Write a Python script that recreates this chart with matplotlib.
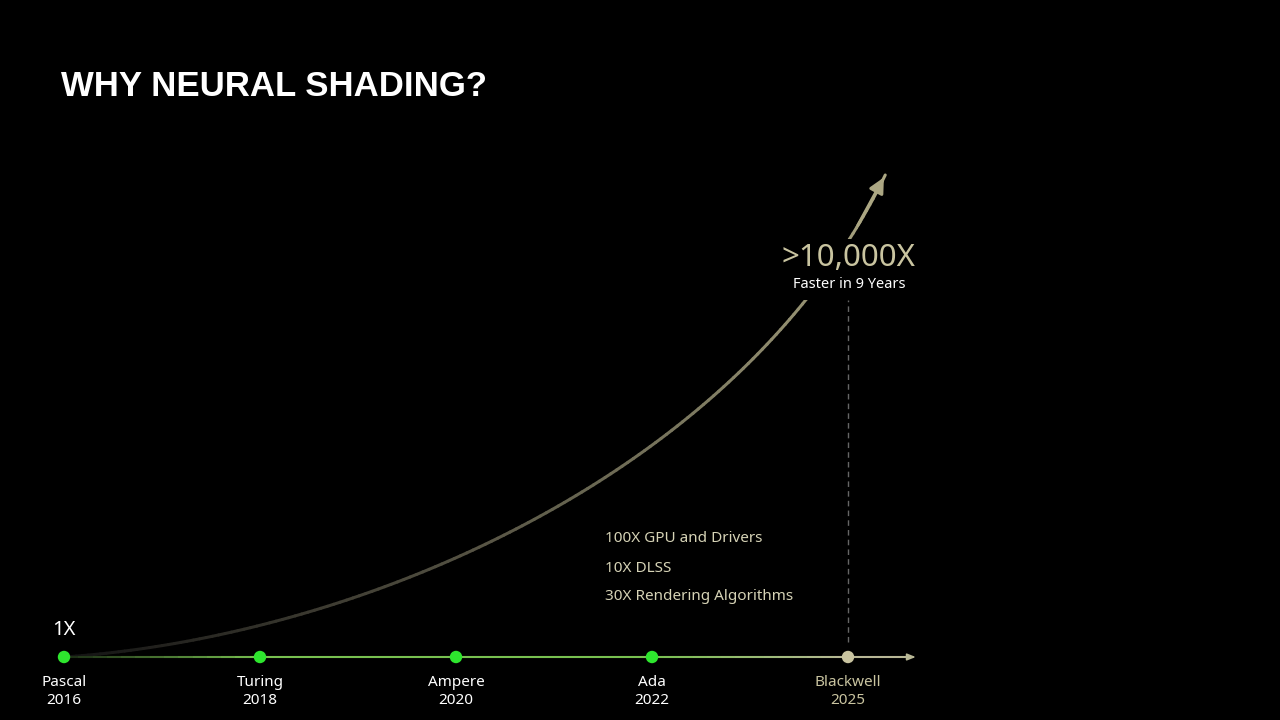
import numpy as np
import matplotlib
matplotlib.use("Agg")
import matplotlib.pyplot as plt
from matplotlib.collections import LineCollection
from matplotlib.colors import to_rgba
from matplotlib.bezier import BezierSegment

# timeline
gens = ["Pascal", "Turing", "Ampere", "Ada", "Blackwell"]
years = ["2016", "2018", "2020", "2022", "2025"]

# growth curve as bezier control points
# (x in generation steps, y = visual height above the timeline)
curve_x = [0.0, 1.51, 3.45, 4.19]
curve_y = [0, 20, 182, 482]

notes = ["100X GPU and Drivers", "10X DLSS", "30X Rendering Algorithms"]

GREEN = "#2ee62e"
KHAKI = "#c9c4a0"
FONT = ["Noto Sans", "DejaVu Sans"]

fig = plt.figure(figsize=(12.8, 7.2), dpi=100, facecolor="black")
ax = fig.add_axes([0, 0, 1, 1], facecolor="black")
ax.set_xlim(-64 / 196, (1280 - 64) / 196)
ax.set_ylim(-63, 657)
ax.axis("off")

# curve: fades in from dark grey to khaki
bez = BezierSegment(np.column_stack([curve_x, curve_y]))
poly = bez(np.linspace(0, 1, 150))
pts = poly.reshape(-1, 1, 2)
segs = np.concatenate([pts[:-1], pts[1:]], axis=1)
dark = np.array(to_rgba("#121212"))
light = np.array(to_rgba("#aca783"))
t = np.linspace(0, 1, len(segs))
cols = [dark + (light - dark) * k for k in t]
ax.add_collection(LineCollection(segs, colors=cols, linewidth=2.2, capstyle="round", zorder=2))
ax.annotate("", xy=(curve_x[-1], curve_y[-1]), xytext=tuple(poly[-10]),
            arrowprops=dict(arrowstyle="-|>,head_length=0.9,head_width=0.45",
                            color="#aca783", lw=2.2), zorder=3)

# baseline with gradient dark -> green -> khaki
bx = np.linspace(0, 4.3, 60)
bp = np.column_stack([bx, np.zeros_like(bx)]).reshape(-1, 1, 2)
bseg = np.concatenate([bp[:-1], bp[1:]], axis=1)
g0 = np.array(to_rgba("#1a2a14"))
g1 = np.array(to_rgba("#78c050"))
g2 = np.array(to_rgba("#b8b796"))
bcols = []
for xm in (bx[:-1] + bx[1:]) / 2:
    if xm < 1.0:
        bcols.append(g0 + (g1 - g0) * xm)
    elif xm < 3.0:
        bcols.append(g1)
    else:
        k = min((xm - 3.0) / 1.0, 1)
        bcols.append(g1 + (g2 - g1) * k)
ax.add_collection(LineCollection(bseg, colors=bcols, linewidth=1.5, zorder=2))
ax.annotate("", xy=(4.36, 0), xytext=(4.25, 0),
            arrowprops=dict(arrowstyle="-|>,head_length=0.5,head_width=0.2",
                            color="#b8b796", lw=1.2), zorder=3)

# dashed marker up from Blackwell
ax.plot([4, 4], [15, 357], color="#666666", lw=1, ls=(0, (4, 3)), zorder=1)

idx = np.arange(len(gens))
dot_cols = [GREEN] * (len(gens) - 1) + [KHAKI]
ax.scatter(idx, np.zeros(len(gens)), s=80, c=dot_cols, zorder=4, edgecolors="none")

for i, (g, y) in enumerate(zip(gens, years)):
    c = KHAKI if i == len(gens) - 1 else "white"
    ax.text(i, -26, g, color=c, fontsize=11, ha="center", va="center", family=FONT)
    ax.text(i, -43, y, color=c, fontsize=11, ha="center", va="center", family=FONT)

ax.text(0, 27, "1X", color="white", fontsize=14.5, ha="center", va="center", family=FONT)

for k, n in enumerate(notes):
    ax.text((605 - 64) / 196, 118 - 29 * k, n, color="#d6d3b6", fontsize=11,
            ha="left", va="center", family=FONT)

ax.text(4.005, 399, ">10,000X", color=KHAKI, fontsize=22.5, ha="center", va="center",
        family=FONT, zorder=5, bbox=dict(facecolor="black", edgecolor="none", pad=3))
ax.text(4.005, 372, "Faster in 9 Years", color="white", fontsize=10.5, ha="center",
        va="center", family=FONT, zorder=5,
        bbox=dict(facecolor="black", edgecolor="none", pad=5))

fig.text(61 / 1280, 1 - 86 / 720, "WHY NEURAL SHADING?", color="white", fontsize=25,
         fontweight="bold", family=["Liberation Sans", "DejaVu Sans"], ha="left", va="center")

fig.savefig("out.png", dpi=100, facecolor="black")
